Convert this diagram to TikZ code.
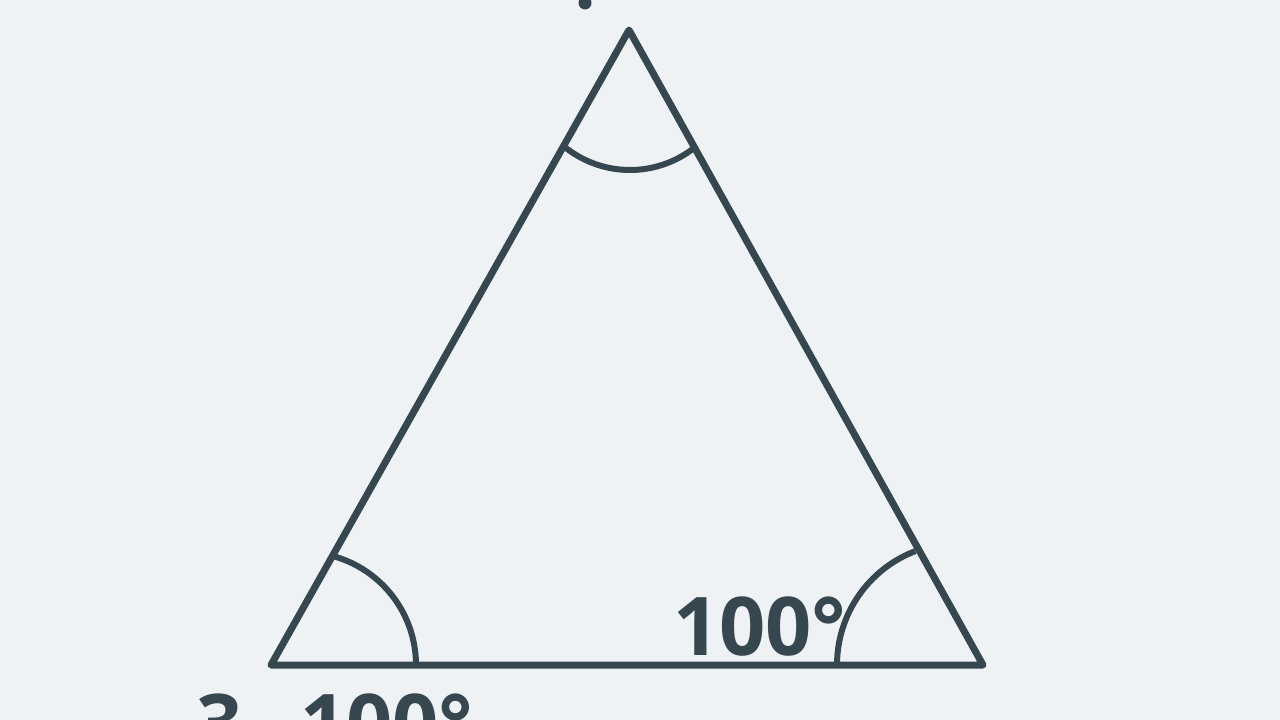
\documentclass[tikz,border=0pt]{standalone}
\usepackage{fontspec}
\setmainfont{Open Sans}
\definecolor{bg}{HTML}{EFF2F5}
\definecolor{ink}{HTML}{37474F}
\begin{document}
\begin{tikzpicture}[x=1pt,y=-1pt,
  edge/.style={draw=ink,line width=7pt,line join=round,line cap=round},
  anglearc/.style={draw=ink,line width=6pt},
  lab/.style={text=ink,font=\fontsize{81}{81}\selectfont\bfseries,inner sep=0pt,anchor=base west}]
\useasboundingbox (0,0) rectangle (1280,720);
\clip (0,0) rectangle (1280,720);
\fill[bg] (0,0) rectangle (1280,720);
\coordinate (A) at (629,30);
\coordinate (B) at (271,665);
\coordinate (C) at (983,665);
\draw[edge] (A) -- (B) -- (C) -- cycle;
% angle arcs
\coordinate (ta) at (630,66);
\draw[anglearc] (ta) ++(128:104) arc[start angle=128,end angle=52,radius=104];
\coordinate (ba) at (303,665);
\draw[anglearc] (ba) ++(0:113) arc[start angle=0,end angle=-74.6,radius=113];
\coordinate (ca) at (959,665);
\draw[anglearc] (ca) ++(180:122) arc[start angle=180,end angle=249,radius=122];
% dot at top
\fill[ink] (585,3) circle (6.5) node (dot) {};
% labels
\node[lab] (r100) at (673,655) {100°};
\node[lab] (l3) at (196,752) {3};
\node[lab] (l100) at (300,752) {100°};
\end{tikzpicture}
\end{document}
